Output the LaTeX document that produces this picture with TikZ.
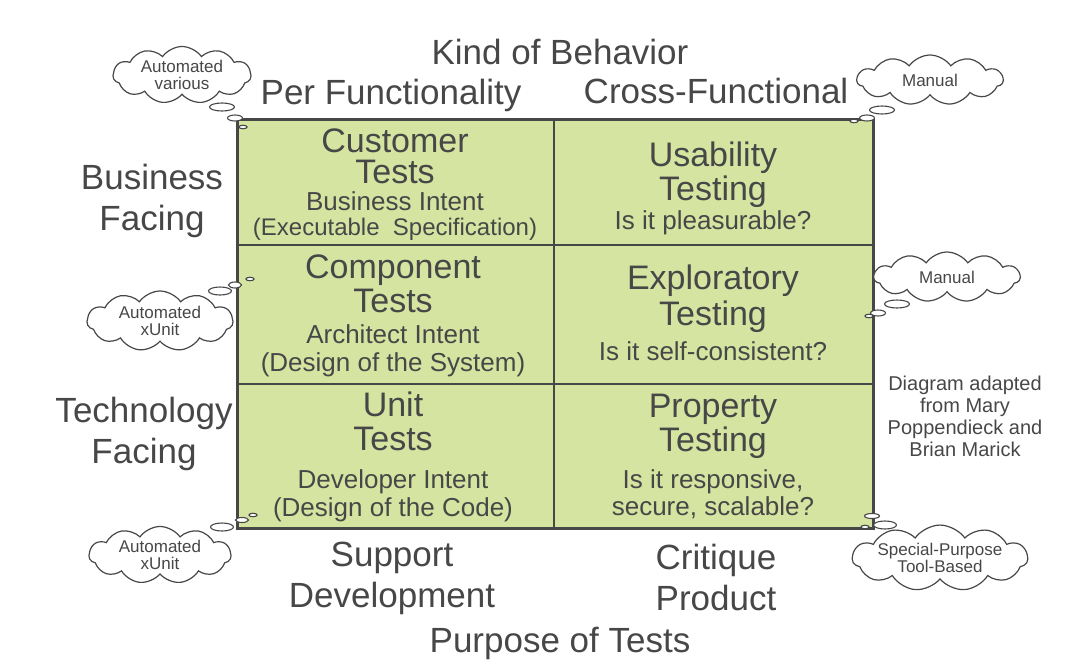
\documentclass[tikz,border=0pt]{standalone}
\usepackage{fontspec}
\setmainfont{Liberation Sans}
\usepackage{xcolor}
\usepackage{tikz}
\usetikzlibrary{positioning,shapes.symbols,shapes.geometric}
\definecolor{quadgreen}{HTML}{D5E4A1}
\definecolor{inkgray}{HTML}{474747}

\begin{document}
\begin{tikzpicture}
[x=1pt, y=-1pt,
    every node/.style={inner sep=0pt, text=inkgray, align=center},
    axis/.style={font=\fontsize{35}{41}\selectfont},
    title/.style={font=\fontsize{34}{34}\selectfont},
    intent/.style={font=\fontsize{26}{27.5}\selectfont},
    thought/.style={cloud, cloud puffs=11, cloud puff arc=110, cloud ignores aspect,
        draw=inkgray, line width=1.2pt, fill=white, font=\fontsize{17}{17}\selectfont},
    puff/.style={ellipse, draw=inkgray, line width=1.1pt, fill=white},
    divider/.style={draw=inkgray, line width=2.5pt}
    ]

    \useasboundingbox (0,0) rectangle (1082,672);

    % the four-by-two quadrant
    \node (quad) [draw=inkgray, line width=3pt, fill=quadgreen,
        minimum width=636pt, minimum height=409pt] at (555,323.5) {};
    \coordinate (midN) at (554,119);
    \coordinate (midS) at (554,528);
    \coordinate (rowAW) at (237,245);
    \coordinate (rowAE) at (873,245);
    \coordinate (rowBW) at (237,384);
    \coordinate (rowBE) at (873,384);
    \draw[divider] (midN) -- (midS);
    \draw[divider] (rowAW) -- (rowAE);
    \draw[divider] (rowBW) -- (rowBE);

    % axis labels
    \node (kind) [axis] at (560,52) {Kind of Behavior};
    \node (perfunc) [axis] at (391,95) {Per Functionality};
    \node (crossfunc) [axis] at (716,91) {Cross-Functional};
    \node (business) [axis] at (152,201) {Business\\Facing};
    \node (technology) [axis] at (144,434) {Technology\\Facing};
    \node (support) [axis] at (392,578) {Support\\Development};
    \node (critique) [axis] at (716,577) {Critique\\Product};
    \node (purpose) [axis] at (560,643) {Purpose of Tests};

    % cells
    \node (customer) [title, font=\fontsize{34}{31}\selectfont] at (395,156) {Customer\\Tests};
    \node (customerSub) [intent, font=\fontsize{24}{25}\selectfont] at (395,216)
        {\fontsize{26}{25}\selectfont Business Intent\\(Executable~~Specification)};
    \node (usability) [title] at (713,175) {Usability\\Testing};
    \node (usabilitySub) [intent] at (713,223) {Is it pleasurable?};
    \node (component) [title] at (393,284) {Component\\Tests};
    \node (componentSub) [intent] at (393,351) {Architect Intent\\(Design of the System)};
    \node (exploratory) [title, font=\fontsize{34}{36}\selectfont] at (713,299) {Exploratory\\Testing};
    \node (exploratorySub) [intent] at (713,351) {Is it self-consistent?};
    \node (unit) [title] at (393,421) {Unit\\Tests};
    \node (unitSub) [intent] at (393,496) {Developer Intent\\(Design of the Code)};
    \node (property) [title] at (713,426) {Property\\Testing};
    \node (propertySub) [intent] at (713,494) {Is it responsive,\\secure, scalable?};

    \node (credit) [font=\fontsize{20}{22}\selectfont] at (965,416) {Diagram adapted\\from Mary\\Poppendieck and\\Brian Marick};

    % thought clouds
    \node (autoVarious) [thought, minimum width=138pt, minimum height=54pt] at (182,75) {Automated\\various};
    \node (autoVarious1) [puff, minimum width=25pt, minimum height=8pt] at (222,107) {};
    \node (autoVarious2) [puff, minimum width=15pt, minimum height=6pt] at (235,118) {};
    \node (autoVarious3) [puff, minimum width=8pt, minimum height=3.5pt] at (243,127) {};

    \node (manualTop) [thought, minimum width=146pt, minimum height=50pt] at (930,80) {Manual};
    \node (manualTop1) [puff, minimum width=25pt, minimum height=8pt] at (882,110) {};
    \node (manualTop2) [puff, minimum width=15pt, minimum height=6pt] at (867,118) {};
    \node (manualTop3) [puff, minimum width=8pt, minimum height=3.5pt] at (854,121) {};

    \node (autoUnitMid) [thought, minimum width=146pt, minimum height=60pt] at (160,321) {Automated\\xUnit};
    \node (autoUnitMid1) [puff, minimum width=23pt, minimum height=8pt] at (220,291) {};
    \node (autoUnitMid2) [puff, minimum width=13pt, minimum height=6pt] at (235,285) {};
    \node (autoUnitMid3) [puff, minimum width=8pt, minimum height=3.5pt] at (250,279) {};

    \node (manualMid) [thought, minimum width=146pt, minimum height=50pt] at (947,277) {Manual};
    \node (manualMid1) [puff, minimum width=25pt, minimum height=8pt] at (897,304) {};
    \node (manualMid2) [puff, minimum width=15pt, minimum height=6pt] at (878,313) {};
    \node (manualMid3) [puff, minimum width=8pt, minimum height=3.5pt] at (869,316) {};

    \node (autoUnitLow) [thought, minimum width=142pt, minimum height=53pt] at (160,555) {Automated\\xUnit};
    \node (autoUnitLow1) [puff, minimum width=23pt, minimum height=8pt] at (222,527) {};
    \node (autoUnitLow2) [puff, minimum width=13pt, minimum height=5pt] at (242,520) {};
    \node (autoUnitLow3) [puff, minimum width=8pt, minimum height=3.5pt] at (253,515) {};

    \node (toolBased) [thought, minimum width=170pt, minimum height=53pt] at (940,558) {Special-Purpose\\Tool-Based};
    \node (toolBased1) [puff, minimum width=23pt, minimum height=8pt] at (885,525) {};
    \node (toolBased2) [puff, minimum width=15pt, minimum height=5pt] at (872,516) {};
    \node (toolBased3) [puff, minimum width=8pt, minimum height=3.5pt] at (865,527) {};
\end{tikzpicture}
\end{document}
